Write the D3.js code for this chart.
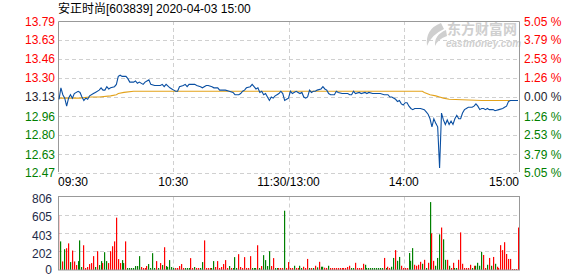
<!DOCTYPE html>
<html lang="zh">
<head>
<meta charset="UTF-8">
<title>安正时尚 分时</title>
<script src="https://d3js.org/d3.v7.min.js"></script>
<style>
    body { margin: 0; background: #fff; }
    text { font-family: "Liberation Sans", Arial, "Noto Sans CJK SC", sans-serif; font-size: 12px; }
</style>
</head>
<body>
<svg id="chart"></svg>
<script>
    // ---- data ----
    const title = "安正时尚[603839] 2020-04-03 15:00";
    const prevClose = 13.13;
    const priceTicks = [13.79, 13.63, 13.46, 13.30, 13.13, 12.96, 12.80, 12.63, 12.47];
    const pctTicks = ["5.05 %", "3.79 %", "2.53 %", "1.26 %", "0.00 %", "1.26 %", "2.53 %", "3.79 %", "5.05 %"];
    const volTicks = [806, 605, 403, 202, 0];
    const timeLabels = ["09:30", "10:30", "11:30/13:00", "14:00", "15:00"];
    const timeLabelMin = [0, 60, 120, 180, 240];

    // minute index (0..240) and price of the blue line
    const priceMin = [0,1,2,3,4,5,6,7,8,10,11,12,13,14,15,16,18,19,21,22,23,24,25,26,27,29,30,31,32,33,35,36,37,39,40,41,42,44,45,46,47,48,50,51,53,54,55,56,58,59,
        60,61,62,63,65,66,67,68,70,71,72,74,75,77,78,80,81,83,84,86,87,89,91,92,94,95,96,97,98,100,101,102,103,104,105,106,107,108,109,110,111,112,113,114,115,116,117,118,119,120,
        121,122,124,125,126,127,128,129,130,131,132,133,134,135,137,138,139,140,141,142,144,145,146,148,149,151,152,153,154,155,157,158,160,161,162,164,165,167,168,170,172,173,174,176,177,178,179,
        180,181,182,183,184,185,186,188,189,191,192,193,194,195,196,197,198,199,200,201,202,203,204,205,206,207,208,209,210,211,212,213,214,216,217,218,219,220,221,222,223,224,225,227,228,230,232,233,234,235,236,240];
    const priceVal = [13.11,13.21,13.15,13.12,13.05,13.12,13.15,13.12,13.16,13.18,13.17,13.13,13.10,13.12,13.11,13.14,13.16,13.17,13.19,13.21,13.19,13.19,13.22,13.20,13.21,13.22,13.24,13.31,13.32,13.31,13.31,13.29,13.26,13.26,13.27,13.25,13.26,13.24,13.26,13.27,13.28,13.24,13.23,13.23,13.23,13.24,13.22,13.24,13.21,13.20,
        13.19,13.18,13.18,13.22,13.23,13.24,13.22,13.24,13.24,13.24,13.23,13.22,13.21,13.23,13.23,13.22,13.21,13.21,13.19,13.19,13.19,13.18,13.17,13.15,13.15,13.16,13.18,13.19,13.21,13.22,13.24,13.22,13.20,13.21,13.17,13.18,13.15,13.16,13.13,13.10,13.13,13.12,13.14,13.15,13.16,13.18,13.16,13.10,13.11,13.12,
        13.18,13.16,13.18,13.17,13.16,13.17,13.13,13.12,13.13,13.19,13.17,13.18,13.18,13.19,13.20,13.22,13.20,13.19,13.16,13.15,13.15,13.18,13.17,13.16,13.16,13.16,13.15,13.15,13.18,13.16,13.17,13.16,13.17,13.16,13.17,13.16,13.16,13.16,13.16,13.15,13.15,13.13,13.13,13.11,13.09,13.10,13.07,
        13.06,13.08,13.08,13.05,13.03,13.02,13.03,13.03,13.03,13.02,13.00,12.98,12.94,12.87,12.94,12.90,12.87,12.51,12.99,12.93,12.89,12.93,12.89,12.92,12.89,12.94,12.97,12.94,12.94,12.99,13.02,13.03,13.04,13.04,13.05,13.07,13.05,13.02,13.03,13.03,13.02,13.03,13.02,13.02,13.01,13.02,13.03,13.04,13.05,13.09,13.10,13.10];

    // average price (yellow line)
    const avgMin = [0, 11, 16, 21, 27, 30, 31, 34, 39, 47, 190, 191, 194, 197, 199, 201, 204, 221, 235, 240];
    const avgVal = [13.12, 13.12, 13.13, 13.13, 13.14, 13.15, 13.16, 13.17, 13.18, 13.18, 13.18, 13.17, 13.15, 13.14, 13.13, 13.12, 13.11, 13.10, 13.10, 13.10];

    // volume per minute, and direction (1 = up/red, 0 = down/green)
    const volumes = [593,307,84,220,231,285,77,205,84,44, 88,318,22,264,11,22,55,66,143,22, 198,44,88,66,187,88,66,198,253,307,
        571,110,66,99,66,307,11,11,11,11, 33,33,143,22,11,11,33,55,11,176, 11,88,11,66,44,242,33,22,99,22,
        11,11,11,33,55,11,11,11,11,121, 11,22,11,11,11,77,318,11,11,11, 11,88,22,88,11,22,55,99,11,33,
        11,11,132,11,165,22,11,132,11,11, 143,11,11,11,264,11,33,154,99,33, 198,33,121,11,11,11,11,11,648,11,77,
        11,11,36,11,11,36,11,25,11,112, 11,11,11,36,18,80,25,25,14,11, 36,11,11,11,11,11,11,11,11,11,
        22,36,11,11,69,11,11,11,58,47, 11,11,11,11,11,11,11,11,11,123, 11,25,11,25,123,210,91,134,36,11,
        11,11,178,91,232,47,36,47,80,58, 102,11,69,744,396,91,36,123,385,461, 330,102,102,36,11,69,11,11,102,407,
        58,11,11,11,47,11,36,36,69,36, 189,156,11,47,123,36,134,58,25,11, 265,210,298,167,112,112,0,0,0,461];
    const volUp = [1,0,1,0,1,1,0,1,1,1, 0,0,0,1,1,1,1,1,1,0, 1,0,0,1,0,0,1,1,1,1,
        1,1,1,0,0,1,0,0,0,0, 0,0,0,1,1,1,1,0,0,0, 0,1,0,1,0,1,0,0,0,0,
        0,1,1,1,1,1,0,0,0,1, 1,0,1,1,0,0,1,1,1,1, 0,0,1,1,1,1,1,1,1,0,
        1,0,0,0,1,1,1,1,1,1, 1,0,0,0,1,0,1,0,0,0, 0,1,1,0,0,1,1,1,0,1,1,
        1,1,0,1,1,0,0,1,1,1, 0,1,0,1,0,1,0,0,1,1, 0,1,1,1,1,1,1,1,1,1,
        1,1,0,0,1,1,1,1,1,0, 0,0,0,0,0,0,0,0,0,1, 0,1,1,0,0,1,0,0,1,1,
        1,1,0,0,0,1,1,1,1,0, 1,0,1,0,1,1,0,0,0,1, 0,0,1,0,1,1,0,0,1,1,
        1,1,1,1,1,0,1,0,0,0, 0,1,1,0,1,0,1,0,1,1, 1,1,1,1,1,1,1,1,1,1];

    // ---- layout ----
    const W = 578, H = 276;
    const left = 58, right = 519;
    const mainTop = 21, mainBottom = 173;
    const volTop = 196.5, volBottom = 269;

    const red = "#ff0000", green = "#008000", dark = "#1c1c2c";
    const gridColor = "#d0d0d0", borderColor = "#999";

    const svg = d3.select("#chart").attr("width", W).attr("height", H);
    svg.append("rect").attr("width", W).attr("height", H).attr("fill", "#fff");

    const y = d3.scaleLinear().domain([prevClose * (1 - 0.0505), prevClose * (1 + 0.0505)]).range([mainBottom, mainTop]);
    const x = d3.scaleLinear().domain([0, 240]).range([left + 1, right - 1]);
    const xGrid = d3.scaleLinear().domain([0, 240]).range([left, right]);
    const xBand = d3.scaleBand().domain(d3.range(241)).range([left, right]);
    const yVol = d3.scaleLinear().domain([0, 806]).range([volBottom, volTop]);

    // watermark
    const wm = svg.append("g").attr("fill", "#cfcfcf");
    wm.append("path").attr("d", "M441,23 Q425,29 427,46 Q431,35 444,29 Z");
    wm.append("path").attr("d", "M446,30 Q434,35 435,46 Q438,39 447,36 Z");
    wm.append("text").attr("x", 447).attr("y", 33.5).style("font-size", "14px").style("font-weight", "bold")
        .style("font-family", "'Noto Sans CJK SC', sans-serif").text("东方财富网");
    wm.append("text").attr("x", 446).attr("y", 46.5).style("font-size", "10px").style("font-weight", "bold")
        .style("font-style", "italic").text("eastmoney.com");

    // title
    svg.append("text").attr("x", left).attr("y", 13).attr("fill", "#000")
        .style("font-family", "'Liberation Sans', 'Noto Sans CJK SC', sans-serif").text(title);

    // main grid
    const g = svg.append("g");
    g.selectAll(".hg").data(priceTicks.slice(1)).enter().append("line")
        .attr("x1", left).attr("x2", right)
        .attr("y1", d => Math.round(y(d)) + 0.5).attr("y2", d => Math.round(y(d)) + 0.5)
        .attr("stroke", gridColor).attr("stroke-dasharray", "4,3");
    g.selectAll(".vg").data(timeLabelMin.slice(1, 4)).enter().append("line")
        .attr("x1", d => Math.round(xGrid(d)) + 0.5).attr("x2", d => Math.round(xGrid(d)) + 0.5)
        .attr("y1", mainTop).attr("y2", mainBottom - 1)
        .attr("stroke", gridColor).attr("stroke-dasharray", "4,3");

    // border (top, left, right)
    g.append("path").attr("d", `M${left + 0.5},${mainBottom - 1}V${mainTop + 0.5}H${right + 0.5}V${mainBottom - 1}`)
        .attr("fill", "none").attr("stroke", borderColor);

    // price labels
    const tickColor = (i) => i < 4 ? red : (i === 4 ? dark : green);
    g.selectAll(".pl").data(priceTicks).enter().append("text")
        .attr("x", 55).attr("y", d => y(d)).attr("dy", "0.36em").attr("text-anchor", "end")
        .attr("fill", (d, i) => tickColor(i)).text(d => d.toFixed(2));
    g.selectAll(".pc").data(pctTicks).enter().append("text")
        .attr("x", 524).attr("y", (d, i) => y(priceTicks[i])).attr("dy", "0.36em")
        .attr("fill", (d, i) => tickColor(i)).text(d => d);

    // time labels
    g.selectAll(".tl").data(timeLabels).enter().append("text")
        .attr("x", (d, i) => xGrid(timeLabelMin[i])).attr("y", 186)
        .attr("text-anchor", (d, i) => i === 0 ? "start" : (i === timeLabels.length - 1 ? "end" : "middle"))
        .attr("fill", "#000").text(d => d);

    // lines
    const avgPts = avgMin.map((m, i) => [m, avgVal[i]]);
    const pricePts = priceMin.map((m, i) => [m, priceVal[i]]);
    const line = d3.line().x(d => x(d[0])).y(d => y(d[1]));
    g.append("path").datum(avgPts).attr("d", line).attr("fill", "none").attr("stroke", "#e3a21a").attr("stroke-width", 1.1);
    g.append("path").datum(pricePts).attr("d", line).attr("fill", "none").attr("stroke", "#0a4fa2").attr("stroke-width", 1.1);

    // volume panel
    const v = svg.append("g");
    v.selectAll(".vhg").data(volTicks.slice(1, 4)).enter().append("line")
        .attr("x1", left).attr("x2", right)
        .attr("y1", d => Math.round(yVol(d)) + 0.5).attr("y2", d => Math.round(yVol(d)) + 0.5)
        .attr("stroke", gridColor).attr("stroke-dasharray", "4,3");
    v.selectAll(".vvg").data(timeLabelMin.slice(1, 4)).enter().append("line")
        .attr("x1", d => Math.round(xGrid(d)) + 0.5).attr("x2", d => Math.round(xGrid(d)) + 0.5)
        .attr("y1", volTop).attr("y2", volBottom)
        .attr("stroke", gridColor).attr("stroke-dasharray", "4,3");

    v.selectAll(".bar").data(volumes).enter().append("rect")
        .attr("x", (d, i) => Math.round(xBand(i) + xBand.bandwidth() / 2 - 0.5))
        .attr("width", 1.2)
        .attr("y", d => yVol(d))
        .attr("height", d => volBottom + 1 - yVol(d))
        .attr("fill", (d, i) => volUp[i] ? red : green);

    v.append("rect").attr("x", left + 0.5).attr("y", volTop).attr("width", right - left).attr("height", volBottom + 1 - volTop)
        .attr("fill", "none").attr("stroke", borderColor);

    v.selectAll(".vl").data(volTicks).enter().append("text")
        .attr("x", 52).attr("y", d => Math.min(yVol(d) + 2.5, 270)).attr("dy", "0.36em").attr("text-anchor", "end")
        .attr("fill", "#1d2a48").text(d => d);
</script>
</body>
</html>
